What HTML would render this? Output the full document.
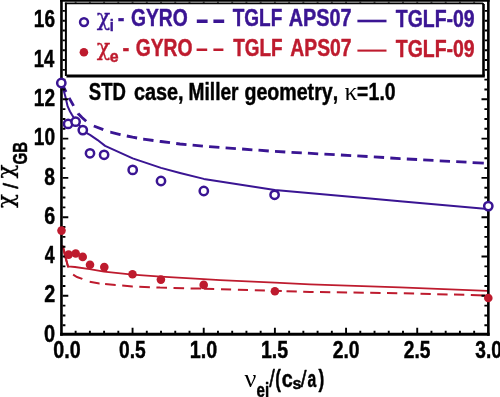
<!DOCTYPE html>
<html lang="en"><head><meta charset="utf-8"><title>chi vs collision frequency</title>
<style>html,body{margin:0;padding:0;background:#fff;}svg{display:block;}text{font-family:"Liberation Sans",sans-serif;font-weight:bold;font-kerning:none;stroke-width:0.45;stroke-linejoin:round;}.sym{font-family:"DejaVu Serif","Liberation Serif",serif;font-weight:normal;font-style:normal;stroke-width:0.3;}.reg{font-weight:normal;stroke-width:0.55;}.symr{font-family:"Liberation Serif","DejaVu Serif",serif;font-weight:normal;font-style:normal;stroke-width:0;}</style></head><body>
<svg width="500" height="397" viewBox="0 0 500 397">
<rect x="0" y="0" width="500" height="397" fill="#fff"/>
<path d="M61.5 83.0 L66.0 92.0M69.1 97.9 L73.6 105.9M78.0 113.4 L78.1 113.6 L82.0 117.5 L86.2 121.2M93.8 126.0 L103.3 129.7M110.3 132.2 L110.4 132.2 L120.2 134.6 L120.6 134.7M126.8 136.0 L132.6 137.2 L137.1 138.0M143.2 139.2 L143.4 139.2 L153.5 140.5M159.7 141.3 L161.0 141.5 L170.0 142.7M176.2 143.5 L180.0 144.0 L186.5 144.6M192.6 145.2 L202.9 146.2M209.1 146.7 L219.4 147.4M225.6 147.9 L235.9 148.6M242.1 149.0 L252.4 149.8M258.5 150.2 L268.8 151.0M275.0 151.4 L285.3 152.0M291.5 152.3 L301.8 152.9M307.9 153.2 L318.2 153.8M324.4 154.1 L334.7 154.7M340.9 155.0 L351.2 155.6M357.3 155.9 L367.6 156.5M373.8 156.9 L384.1 157.5M390.3 158.0 L400.0 158.6 L400.6 158.6M406.8 159.0 L417.1 159.5M423.2 159.9 L433.5 160.4M439.7 160.8 L450.0 161.3M456.2 161.7 L466.5 162.2M472.6 162.6 L483.8 163.2" fill="none" stroke="#3a1593" stroke-width="2.85"/>
<path d="M61.5 83.0 L63.5 90.0 L65.3 96.2 L67.6 106.2 L70.0 111.5 L72.1 115.1 L75.6 120.8 L82.7 129.6 L87.2 133.3 L90.0 134.8 L97.3 139.8 L105.1 145.9 L132.7 158.4 L161.0 167.9 L180.0 173.0 L203.8 178.9 L274.8 190.0 L370.0 198.4 L400.0 201.2 L487.5 209.1" fill="none" stroke="#3a1593" stroke-width="2.0" stroke-linejoin="round"/>
<path d="M62.9 246.0 L65.3 256.0 L68.3 267.6M73.1 274.6 L77.0 277.0 L82.2 278.8 L82.4 278.9M89.7 281.8 L99.4 283.6 L99.6 283.6M105.1 284.1 L115.5 285.0 L115.7 285.0M122.2 285.6 L132.4 286.4 L132.8 286.4M139.3 286.7 L149.9 287.2M156.4 287.4 L160.0 287.6 L167.0 287.8M173.5 287.9 L184.1 288.2M190.6 288.4 L201.2 288.6M204.1 288.7 L214.2 289.0M221.0 289.2 L231.1 289.5M237.9 289.7 L248.0 290.0M254.8 290.2 L264.9 290.5M271.7 290.7 L274.9 290.8 L281.8 291.0M286.5 291.2 L296.8 291.5M303.2 291.7 L310.0 291.9 L313.6 292.0M320.0 292.0 L330.3 292.2M336.8 292.3 L347.1 292.4M353.5 292.5 L363.8 292.7M370.2 292.8 L380.6 292.9M387.0 293.0 L397.3 293.2M403.8 293.3 L414.1 293.6M420.5 293.7 L430.8 294.0M437.2 294.2 L447.6 294.4M454.0 294.6 L464.3 294.8M470.8 295.0 L485.0 295.4" fill="none" stroke="#be1b2e" stroke-width="2.0"/>
<path d="M62.2 245.3 L63.0 248.0 L65.5 258.0 L67.9 266.3 L75.0 267.0 L89.7 269.2 L104.0 271.7 L132.5 274.6 L160.9 276.7 L203.7 279.1 L220.0 280.1 L274.9 282.7 L310.0 284.3 L400.0 287.3 L487.5 290.9" fill="none" stroke="#be1b2e" stroke-width="1.8" stroke-linejoin="round"/>
<g stroke="#000" stroke-width="1.9" fill="none">
<path d="M62.6 325.28h2.8M487.2 325.28h-2.8"/>
<path d="M62.6 315.45h2.8M487.2 315.45h-2.8"/>
<path d="M62.6 305.62h2.8M487.2 305.62h-2.8"/>
<path d="M62.6 295.80h5.7M487.2 295.80h-5.7"/>
<path d="M62.6 285.98h2.8M487.2 285.98h-2.8"/>
<path d="M62.6 276.15h2.8M487.2 276.15h-2.8"/>
<path d="M62.6 266.33h2.8M487.2 266.33h-2.8"/>
<path d="M62.6 256.50h5.7M487.2 256.50h-5.7"/>
<path d="M62.6 246.68h2.8M487.2 246.68h-2.8"/>
<path d="M62.6 236.85h2.8M487.2 236.85h-2.8"/>
<path d="M62.6 227.03h2.8M487.2 227.03h-2.8"/>
<path d="M62.6 217.20h5.7M487.2 217.20h-5.7"/>
<path d="M62.6 207.38h2.8M487.2 207.38h-2.8"/>
<path d="M62.6 197.55h2.8M487.2 197.55h-2.8"/>
<path d="M62.6 187.73h2.8M487.2 187.73h-2.8"/>
<path d="M62.6 177.90h5.7M487.2 177.90h-5.7"/>
<path d="M62.6 168.08h2.8M487.2 168.08h-2.8"/>
<path d="M62.6 158.25h2.8M487.2 158.25h-2.8"/>
<path d="M62.6 148.43h2.8M487.2 148.43h-2.8"/>
<path d="M62.6 138.60h5.7M487.2 138.60h-5.7"/>
<path d="M62.6 128.78h2.8M487.2 128.78h-2.8"/>
<path d="M62.6 118.95h2.8M487.2 118.95h-2.8"/>
<path d="M62.6 109.13h2.8M487.2 109.13h-2.8"/>
<path d="M62.6 99.30h5.7M487.2 99.30h-5.7"/>
<path d="M62.6 89.48h2.8M487.2 89.48h-2.8"/>
<path d="M62.6 79.65h2.8M487.2 79.65h-2.8"/>
<path d="M62.6 69.83h2.8M487.2 69.83h-2.8"/>
<path d="M62.6 60.00h5.7M487.2 60.00h-5.7"/>
<path d="M62.6 50.18h2.8M487.2 50.18h-2.8"/>
<path d="M62.6 40.35h2.8M487.2 40.35h-2.8"/>
<path d="M62.6 30.53h2.8M487.2 30.53h-2.8"/>
<path d="M62.6 20.70h5.7M487.2 20.70h-5.7"/>
<path d="M62.6 10.88h2.8M487.2 10.88h-2.8"/>
<path d="M75.63 333.1v-2.3M75.63 1.7v2.3"/>
<path d="M89.87 333.1v-2.3M89.87 1.7v2.3"/>
<path d="M104.10 333.1v-2.3M104.10 1.7v2.3"/>
<path d="M118.33 333.1v-2.3M118.33 1.7v2.3"/>
<path d="M132.56 333.1v-5.3M132.56 1.7v5.3"/>
<path d="M146.80 333.1v-2.3M146.80 1.7v2.3"/>
<path d="M161.03 333.1v-2.3M161.03 1.7v2.3"/>
<path d="M175.26 333.1v-2.3M175.26 1.7v2.3"/>
<path d="M189.50 333.1v-2.3M189.50 1.7v2.3"/>
<path d="M203.73 333.1v-5.3M203.73 1.7v5.3"/>
<path d="M217.96 333.1v-2.3M217.96 1.7v2.3"/>
<path d="M232.20 333.1v-2.3M232.20 1.7v2.3"/>
<path d="M246.43 333.1v-2.3M246.43 1.7v2.3"/>
<path d="M260.66 333.1v-2.3M260.66 1.7v2.3"/>
<path d="M274.89 333.1v-5.3M274.89 1.7v5.3"/>
<path d="M289.13 333.1v-2.3M289.13 1.7v2.3"/>
<path d="M303.36 333.1v-2.3M303.36 1.7v2.3"/>
<path d="M317.59 333.1v-2.3M317.59 1.7v2.3"/>
<path d="M331.83 333.1v-2.3M331.83 1.7v2.3"/>
<path d="M346.06 333.1v-5.3M346.06 1.7v5.3"/>
<path d="M360.29 333.1v-2.3M360.29 1.7v2.3"/>
<path d="M374.53 333.1v-2.3M374.53 1.7v2.3"/>
<path d="M388.76 333.1v-2.3M388.76 1.7v2.3"/>
<path d="M402.99 333.1v-2.3M402.99 1.7v2.3"/>
<path d="M417.23 333.1v-5.3M417.23 1.7v5.3"/>
<path d="M431.46 333.1v-2.3M431.46 1.7v2.3"/>
<path d="M445.69 333.1v-2.3M445.69 1.7v2.3"/>
<path d="M459.92 333.1v-2.3M459.92 1.7v2.3"/>
<path d="M474.16 333.1v-2.3M474.16 1.7v2.3"/>
</g>
<path d="M61.45 0V335.75M488.35 0V335.75" fill="none" stroke="#000" stroke-width="2.6"/>
<path d="M60.15 334.3H489.65" fill="none" stroke="#000" stroke-width="2.9"/>
<path d="M60.15 0.9H489.65" fill="none" stroke="#000" stroke-width="1.8"/>
<g fill="#fff" stroke="#3a1593" stroke-width="2.5">
<circle cx="61.3" cy="83.0" r="4.15"/>
<circle cx="68.1" cy="123.9" r="4.15"/>
<circle cx="75.6" cy="121.7" r="4.15"/>
<circle cx="82.8" cy="130.1" r="4.15"/>
<circle cx="90.0" cy="153.3" r="4.15"/>
<circle cx="104.1" cy="154.8" r="4.15"/>
<circle cx="132.7" cy="169.9" r="4.15"/>
<circle cx="161" cy="181" r="4.15"/>
<circle cx="203.8" cy="191" r="4.15"/>
<circle cx="274.6" cy="194.8" r="4.15"/>
<circle cx="488.3" cy="206.1" r="4.15"/>
</g>
<g fill="#be1b2e">
<circle cx="61.5" cy="230.6" r="4.3"/>
<circle cx="68.6" cy="254.6" r="4.3"/>
<circle cx="75.7" cy="253.5" r="4.3"/>
<circle cx="82.7" cy="256.9" r="4.3"/>
<circle cx="90.0" cy="264.7" r="4.3"/>
<circle cx="104.3" cy="267.1" r="4.3"/>
<circle cx="132.5" cy="274.3" r="4.3"/>
<circle cx="160.9" cy="279.6" r="4.3"/>
<circle cx="203.7" cy="284.9" r="4.3"/>
<circle cx="274.9" cy="291.3" r="4.3"/>
<circle cx="488.3" cy="298" r="4.3"/>
</g>
<rect x="64.9" y="2.6" width="419.9" height="74.8" fill="#fff"/>
<path d="M64.9 3.4H482.6Q483.5 3.5 483.5 5" stroke="#000" stroke-width="1.6" fill="none"/>
<path d="M65.9 2.6V76" stroke="#000" stroke-width="2" fill="none"/>
<path d="M483.5 4V76" stroke="#000" stroke-width="2.6" fill="none"/>
<path d="M66.4 75.95H484.8" stroke="#000" stroke-width="2.9" fill="none"/>
<circle cx="84" cy="22.1" r="3.95" fill="#fff" stroke="#3a1593" stroke-width="2.5"/>
<circle cx="83.9" cy="52.2" r="4.3" fill="#be1b2e"/>
<path d="M196.8 21.2h10.8M213.4 21.2h10.8" stroke="#3a1593" stroke-width="3.5" fill="none"/>
<path d="M196.6 49.8h10.6M213.4 49.8h10" stroke="#be1b2e" stroke-width="2.5" fill="none"/>
<path d="M357.4 21h29.1" stroke="#3a1593" stroke-width="2.6" fill="none"/>
<path d="M357.4 50.6h29.1" stroke="#be1b2e" stroke-width="2.1" fill="none"/>
<text transform="translate(96.73 24.9) scale(0.9649 1)" font-size="23.2" fill="#3a1593" stroke="#3a1593" class="sym">χ</text>
<text transform="translate(109.78 31.2) scale(0.8834 1)" font-size="16.5" fill="#3a1593" stroke="#3a1593">i</text>
<text transform="translate(117.82 25.6) scale(0.8475 1)" font-size="23.7" fill="#3a1593" stroke="#3a1593">-</text>
<text transform="translate(130.91 26.2) scale(0.8139 1)" font-size="23.7" fill="#3a1593" stroke="#3a1593">GYRO</text>
<text transform="translate(232.69 26.2) scale(0.8019 1)" font-size="23.7" fill="#3a1593" stroke="#3a1593">TGLF</text>
<text transform="translate(288.71 26.2) scale(0.8385 1)" font-size="23.7" fill="#3a1593" stroke="#3a1593">APS07</text>
<text transform="translate(395.78 26.9) scale(0.8213 1)" font-size="23.7" fill="#3a1593" stroke="#3a1593">TGLF-09</text>
<text transform="translate(96.73 55.2) scale(0.9649 1)" font-size="23.2" fill="#be1b2e" stroke="#be1b2e" class="sym">χ</text>
<text transform="translate(109.68 62.0) scale(0.9664 1)" font-size="16.5" fill="#be1b2e" stroke="#be1b2e">e</text>
<text transform="translate(122.40 56.0) scale(0.8641 1)" font-size="23.7" fill="#be1b2e" stroke="#be1b2e">-</text>
<text transform="translate(135.71 55.7) scale(0.8139 1)" font-size="23.7" fill="#be1b2e" stroke="#be1b2e">GYRO</text>
<text transform="translate(233.19 55.7) scale(0.7970 1)" font-size="23.7" fill="#be1b2e" stroke="#be1b2e">TGLF</text>
<text transform="translate(290.32 55.7) scale(0.8168 1)" font-size="23.7" fill="#be1b2e" stroke="#be1b2e">APS07</text>
<text transform="translate(395.78 57.2) scale(0.8213 1)" font-size="23.7" fill="#be1b2e" stroke="#be1b2e">TGLF-09</text>
<text transform="translate(88.87 100.1) scale(0.7830 1)" font-size="23.7" fill="#000" stroke="#000">STD</text>
<text transform="translate(133.92 100.1) scale(0.8381 1)" font-size="23.7" fill="#000" stroke="#000">case,</text>
<text transform="translate(188.62 100.1) scale(0.8073 1)" font-size="23.7" fill="#000" stroke="#000">Miller</text>
<text transform="translate(244.40 100.1) scale(0.8274 1)" font-size="23.7" fill="#000" stroke="#000">geometry,</text>
<text transform="translate(344.61 100.2) scale(1.0568 1)" font-size="24.3" fill="#000" stroke="#000" class="symr">κ</text>
<text transform="translate(357.11 100.1) scale(0.8078 1)" font-size="23.7" fill="#000" stroke="#000">=</text>
<text transform="translate(368.58 100.1) scale(0.8202 1)" font-size="23.7" fill="#000" stroke="#000">1.0</text>
<text transform="translate(44.11 341.7) scale(0.8428 1)" font-size="23.7" fill="#000" stroke="#000">0</text>
<text transform="translate(44.22 302.4) scale(0.8326 1)" font-size="23.7" fill="#000" stroke="#000">2</text>
<text transform="translate(44.63 263.1) scale(0.7483 1)" font-size="23.7" fill="#000" stroke="#000">4</text>
<text transform="translate(44.18 223.8) scale(0.8292 1)" font-size="23.7" fill="#000" stroke="#000">6</text>
<text transform="translate(44.29 184.5) scale(0.8120 1)" font-size="23.7" fill="#000" stroke="#000">8</text>
<text transform="translate(33.79 145.2) scale(0.8076 1)" font-size="23.7" fill="#000" stroke="#000">10</text>
<text transform="translate(33.80 105.9) scale(0.8069 1)" font-size="23.7" fill="#000" stroke="#000">12</text>
<text transform="translate(33.84 66.6) scale(0.7801 1)" font-size="23.7" fill="#000" stroke="#000">14</text>
<text transform="translate(33.80 27.3) scale(0.8037 1)" font-size="23.7" fill="#000" stroke="#000">16</text>
<text transform="translate(53.22 357.5) scale(0.8313 1)" font-size="23.7" fill="#000" stroke="#000">0.0</text>
<text transform="translate(119.11 357.5) scale(0.8102 1)" font-size="23.7" fill="#000" stroke="#000">0.5</text>
<text transform="translate(189.79 357.5) scale(0.8333 1)" font-size="23.7" fill="#000" stroke="#000">1.0</text>
<text transform="translate(260.96 357.5) scale(0.8248 1)" font-size="23.7" fill="#000" stroke="#000">1.5</text>
<text transform="translate(332.69 357.5) scale(0.8153 1)" font-size="23.7" fill="#000" stroke="#000">2.0</text>
<text transform="translate(403.86 357.5) scale(0.8072 1)" font-size="23.7" fill="#000" stroke="#000">2.5</text>
<text transform="translate(475.25 357.5) scale(0.8081 1)" font-size="23.7" fill="#000" stroke="#000">3.0</text>
<text transform="translate(244.44 386.9) scale(1.0304 1)" font-size="25.5" fill="#000" stroke="#000" class="symr">ν</text>
<text transform="translate(256.61 396.6) scale(0.7719 1)" font-size="19.5" fill="#000" stroke="#000">ei</text>
<text transform="translate(269.37 387.0) scale(0.8444 1)" font-size="23.7" fill="#000" stroke="#000" class="reg">/</text>
<text transform="translate(275.35 387.0) scale(0.7176 1)" font-size="23.7" fill="#000" stroke="#000">(</text>
<text transform="translate(281.82 387.2) scale(0.8391 1)" font-size="23.7" fill="#000" stroke="#000">c</text>
<text transform="translate(292.44 389.4) scale(0.9723 1)" font-size="16.5" fill="#000" stroke="#000">s</text>
<text transform="translate(300.87 387.0) scale(0.8748 1)" font-size="23.7" fill="#000" stroke="#000" class="reg">/</text>
<text transform="translate(307.54 387.2) scale(0.6647 1)" font-size="23.7" fill="#000" stroke="#000">a</text>
<text transform="translate(318.38 387.0) scale(0.7326 1)" font-size="23.7" fill="#000" stroke="#000">)</text>
<g transform="translate(17.6 209) rotate(-90)">
<text x="1.0" y="-4.4" font-size="23.2" fill="#000" stroke="#000" class="sym">χ</text>
<text x="20.2" y="0.1" font-size="20.5" fill="#000" stroke="#000" class="reg">/</text>
<text x="30.5" y="-4.4" font-size="23.2" fill="#000" stroke="#000" class="sym">χ</text>
<text x="44.5" y="9.8" font-size="19.5" fill="#000" stroke="#000" textLength="22.5" lengthAdjust="spacingAndGlyphs">GB</text>
</g>
</svg></body></html>
